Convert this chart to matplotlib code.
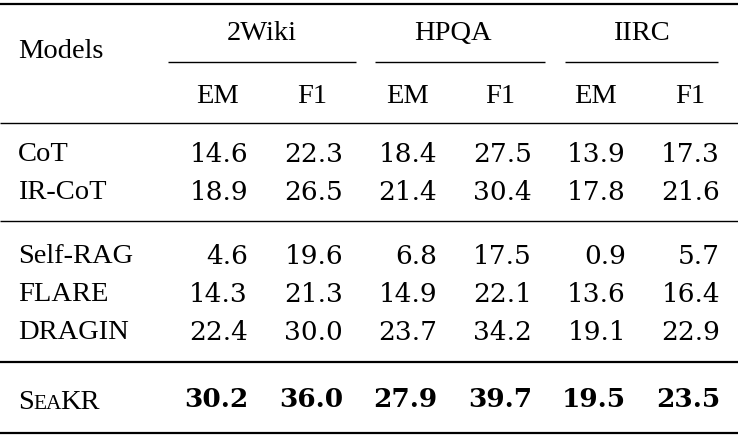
import matplotlib
matplotlib.use("Agg")
import matplotlib.pyplot as plt

groups = ["2Wiki", "HPQA", "IIRC"]
metrics = ["EM", "F1"]
models = ["CoT", "IR-CoT", "Self-RAG", "FLARE", "DRAGIN"]
values = [
    [14.6, 22.3, 18.4, 27.5, 13.9, 17.3],
    [18.9, 26.5, 21.4, 30.4, 17.8, 21.6],
    [4.6, 19.6, 6.8, 17.5, 0.9, 5.7],
    [14.3, 21.3, 14.9, 22.1, 13.6, 16.4],
    [22.4, 30.0, 23.7, 34.2, 19.1, 22.9],
]
seakr = [30.2, 36.0, 27.9, 39.7, 19.5, 23.5]

plt.rcParams['font.family'] = ['Liberation Serif', 'DejaVu Serif']
fs = 20.5
nfs = 19
numfam = ['DejaVu Serif']
fig = plt.figure(figsize=(7.38, 4.39), dpi=100)
ax = fig.add_axes([0, 0, 1, 1])
ax.set_xlim(0, 738); ax.set_ylim(439, 0); ax.axis('off')

def hline(y, x0=0, x1=738, lw=1.2):
    ax.plot([x0, x1], [y, y], color='black', lw=lw, solid_capstyle='butt')

hline(5, lw=1.6)
hline(124, lw=1.0)
hline(222, lw=1.0)
hline(363, lw=1.6)
hline(434, lw=1.6)

ax.text(18, 52, "Models", fontsize=fs, va='center', ha='left')
gcent = [262, 453, 641]
spans = [(168, 356), (375, 545), (565, 718)]
for g, c, (a, b) in zip(groups, gcent, spans):
    ax.text(c, 33, g, fontsize=fs, va='center', ha='center')
    hline(63, a, b, lw=1.0)
mcent = [218, 312, 408, 500, 596, 690]
for i, c in enumerate(mcent):
    ax.text(c, 97, metrics[i % 2], fontsize=fs, va='center', ha='center')

rights = [248, 343, 437, 532, 626, 720]
rowy = [155, 193, 257, 295, 333]
for m, y, vals in zip(models, rowy, values):
    ax.text(18, y, m, fontsize=fs, va='center', ha='left')
    for r, v in zip(rights, vals):
        ax.text(r, y, f"{v:.1f}", fontsize=nfs, va='center', ha='right', family=numfam)

yb = 409
ax.text(18, yb, "S", fontsize=fs, va='baseline', ha='left')
ax.text(33, yb, "EA", fontsize=fs * 0.75, va='baseline', ha='left')
ax.text(60, yb, "KR", fontsize=fs, va='baseline', ha='left')
for r, v in zip(rights, seakr):
    ax.text(r, 400, f"{v:.1f}", fontsize=nfs, va='center', ha='right',
            fontweight='bold', family=numfam)

fig.savefig("out.png", dpi=100)
